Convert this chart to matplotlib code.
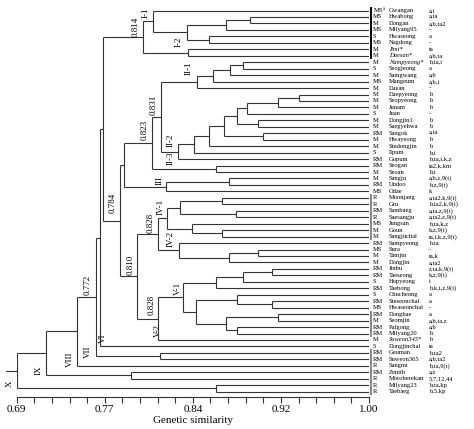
import matplotlib.pyplot as plt
import matplotlib.transforms as mtransforms
import numpy as np

plt.rcParams['font.family'] = ['Liberation Serif', 'DejaVu Serif']
plt.rcParams['mathtext.fontset'] = 'stix'

codes = ['MS', 'MS', 'M', 'MS', 'S', 'MS', 'M', 'M', 'M', 'S', 'M', 'MS', 'M', 'M', 'M',
         'M', 'S', 'M', 'M', 'RM', 'M', 'M', 'S', 'RM', 'RM', 'M', 'M', 'RM', 'MS', 'R',
         'R', 'RM', 'R', 'MS', 'M', 'M', 'RM', 'MS', 'M', 'M', 'RM', 'RM', 'S', 'RM', 'S',
         'RM', 'MS', 'RM', 'M', 'RM', 'RM', 'M', 'S', 'RM', 'RM', 'R', 'RM', 'R', 'R', 'R']
names = ['Gwangan', 'Hwabong', 'Dongan', 'Milyang95', 'Hwaseong', 'Nagdong', 'Ilmi*',
         'Daesan*', 'Nampyeong*', 'Seogjeong', 'Samgwang', 'Mangeum', 'Daean', 'Daepyeong',
         'Seopyeong', 'Junam', 'Juan', 'Dongjin1', 'Saegyehwa', 'Sangok', 'Hwayeong',
         'Sindongjin', 'Ilpum', 'Gopum', 'Seogan', 'Seoan', 'Sangju', 'Undoo', 'Odae',
         'Moonjang', 'Gru', 'Sambaeg', 'Saesangju', 'Jungsan', 'Goun', 'Sangjuchal',
         'Sampyeong', 'Sura', 'Tamjin', 'Dongjin', 'Jinbu', 'Taeseong', 'Hopyeong',
         'Taebong', 'Chucheong', 'Sinseonchal', 'Hwaseonchal', 'Donghae', 'Seomjin',
         'Palgong', 'Milyang20', 'Suweon345*', 'Dongjinchal', 'Geuman', 'Suweon365',
         'Sangmi', 'Zenith', 'Moroberekan', 'Milyang23', 'Taebaeg']
alleles = ['a,i', 'a,ta', 'a,b,ta2', '-', 'a', '-', 'ta', 'a,b,ta', 'b,ta,i', 'a', 'a,b',
           'a,b,i', '-', 'b', 'b', 'b', '-', 'b', 'b', 'a,ta', 'b', 'b', 'b,i', 'b,ta,i,k,z',
           'ta2,k,km', 'b,i', 'a,b,z,9(t)', 'b,z,9(t)', 'k', 'a,ta2,k,9(t)', 'b,ta2,k,9(t)',
           'a,ta,z,9(t)', 'a,ta2,z,9(t)', 'b,ta,k,z', 'k,z,9(t)', 'ta,i,k,z,9(t)', 'b,ta',
           '-', 'ta,k', 'a,ta2', 'z,ta,k,9(t)', 'k,z,9(t)', 'i', 'b,k,i,z,9(t)', 'a', 'a',
           '-', 'a', 'a,b,ta,z', 'a,b', 'b', 'b', 'ta', 'b,ta2', 'a,b,ta2', 'b,ta,9(t)',
           'a,z', '5,7,12,44', 'b,ta,kp', 'b,5,kp']
italic = ['Ilmi*', 'Daesan*', 'Nampyeong*', 'Suweon345*']

# tree: (left, right, similarity)
g_I1 = (0, (((1, 2, 0.895), 3, 0.874), (4, 5, 0.859), 0.840), 0.810)
g_I = (g_I1, (6, 7, 0.841), 0.801)
g_II1 = ((((8, 9, 0.889), 10, 0.878), 11, 0.863), 12, 0.849)
g_II2 = (((((((13, 14, 0.938), 15, 0.920), 16, 0.893), (17, 18, 0.902), 0.884),
            (19, 20, 0.907), 0.872), 21, 0.859), 22, 0.846)
g_II2 = (g_II2, 23, 0.832)
g_II = ((g_II1, g_II2, 0.817), (24, 25, 0.865), 0.809)
g_III = ((26, 27, 0.877), 28, 0.821)
g_IV1 = (((29, 30, 0.871), (31, 32, 0.883), 0.834), (33, (34, 35, 0.871), 0.844), 0.822)
g_IV2 = (36, ((37, 38, 0.902), 39, 0.877), 0.833)
g_V1 = ((((40, 41, 0.915), 42, 0.889), 43, 0.865),
        ((44, (45, 46, 0.915), 0.884), ((47, 48, 0.920), (49, 50, 0.884), 0.874), 0.848), 0.836)
g_810 = ((g_IV1, g_IV2, 0.814), (g_V1, 51, 0.814), 0.796)
g_784 = ((g_II, g_III, 0.784), g_810, 0.781)
tree = ((((((g_I, g_784, 0.766), 52, 0.763), (53, 54, 0.816), 0.760), 55, 0.743),
         (56, 57, 0.791), 0.7155), (58, 59, 0.865), 0.690)

group_labels = [('0.814', 0.7985, 4.1), ('I-1', 0.807, 1.2), ('I-2', 0.836, 5.6),
                ('II-1', 0.845, 10.0), ('0.831', 0.814, 16.2), ('0.823', 0.806, 20.0),
                ('II-2', 0.829, 21.1), ('II-3', 0.829, 23.9), ('III', 0.819, 27.0),
                ('0.784', 0.778, 31.4), ('IV-1', 0.8205, 31.7), ('0.828', 0.811, 34.5),
                ('IV-2', 0.829, 36.6), ('0.810', 0.794, 41.0), ('V-1', 0.835, 44.0),
                ('0.828', 0.812, 47.1), ('V-2', 0.818, 50.5), ('0.772', 0.756, 44.0),
                ('VI', 0.7695, 51.5), ('VII', 0.756, 53.8), ('VIII', 0.740, 55.2),
                ('IX', 0.713, 56.4), ('X', 0.6875, 58.3)]
major_ticks = ['0.69', '0.77', '0.84', '0.92', '1.00']

fig = plt.figure(figsize=(4.74, 4.29), dpi=100)
ax = fig.add_axes([16.7 / 474, 1 - 397 / 429, 352.3 / 474, 397 / 429])
lc = '#333333'
lw = 0.8


def draw(node):
    # returns (y, x) of the node
    if isinstance(node, int):
        return node, 1.0
    left, right, h = node
    yl, xl = draw(left)
    yr, xr = draw(right)
    ax.plot([h, h], [yl, yr], color=lc, lw=lw, solid_capstyle='butt')
    ax.plot([h, xl], [yl, yl], color=lc, lw=lw, solid_capstyle='butt')
    ax.plot([h, xr], [yr, yr], color=lc, lw=lw, solid_capstyle='butt')
    return (yl + yr) / 2, h


root_y, root_x = draw(tree)
ax.plot([root_x - 0.0095, root_x], [root_y, root_y], color=lc, lw=lw, clip_on=False)

for txt, x, y in group_labels:
    ax.text(x, y, txt, rotation=90, ha='right', va='bottom', fontsize=6.5)

ax.set_xlim(0.69, 1.0)
ax.set_ylim(59.83, -1.63)
for s in ['top', 'right', 'left']:
    ax.spines[s].set_visible(False)
ax.spines['bottom'].set_color(lc)
ax.spines['bottom'].set_linewidth(lw)
ax.set_yticks([])
ax.set_xticks(np.linspace(0.69, 1.0, 5))
ax.set_xticklabels(major_ticks, fontsize=8)
ax.set_xticks(np.linspace(0.69, 1.0, 21), minor=True)
ax.tick_params(axis='x', which='both', length=4, width=lw, color=lc, pad=2)
ax.set_xlabel('Genetic similarity', fontsize=8, labelpad=1)

tr = mtransforms.blended_transform_factory(fig.transFigure, ax.transData)
fs = 4.7
for i in range(len(names)):
    code = codes[i] + ('$^{\\S}$' if i == 0 else '')
    ax.text(373 / 474, i, code, transform=tr, fontsize=fs, va='center')
    ax.text(389 / 474, i, names[i], transform=tr, fontsize=fs, va='center',
            style='italic' if names[i] in italic else 'normal')
    ax.text(429 / 474, i, alleles[i], transform=tr, fontsize=fs, va='center')

# bracket bars next to groups
for a, b, col in [(0, 7, 'black'), (29, 35, '#888888'), (47, 50, '#888888'), (53, 59, '#888888')]:
    ax.plot([370.5 / 474] * 2, [a - 0.4, b + 0.4], transform=tr, color=col, lw=1.4,
            clip_on=False)

fig.savefig('out.png', dpi=100)
